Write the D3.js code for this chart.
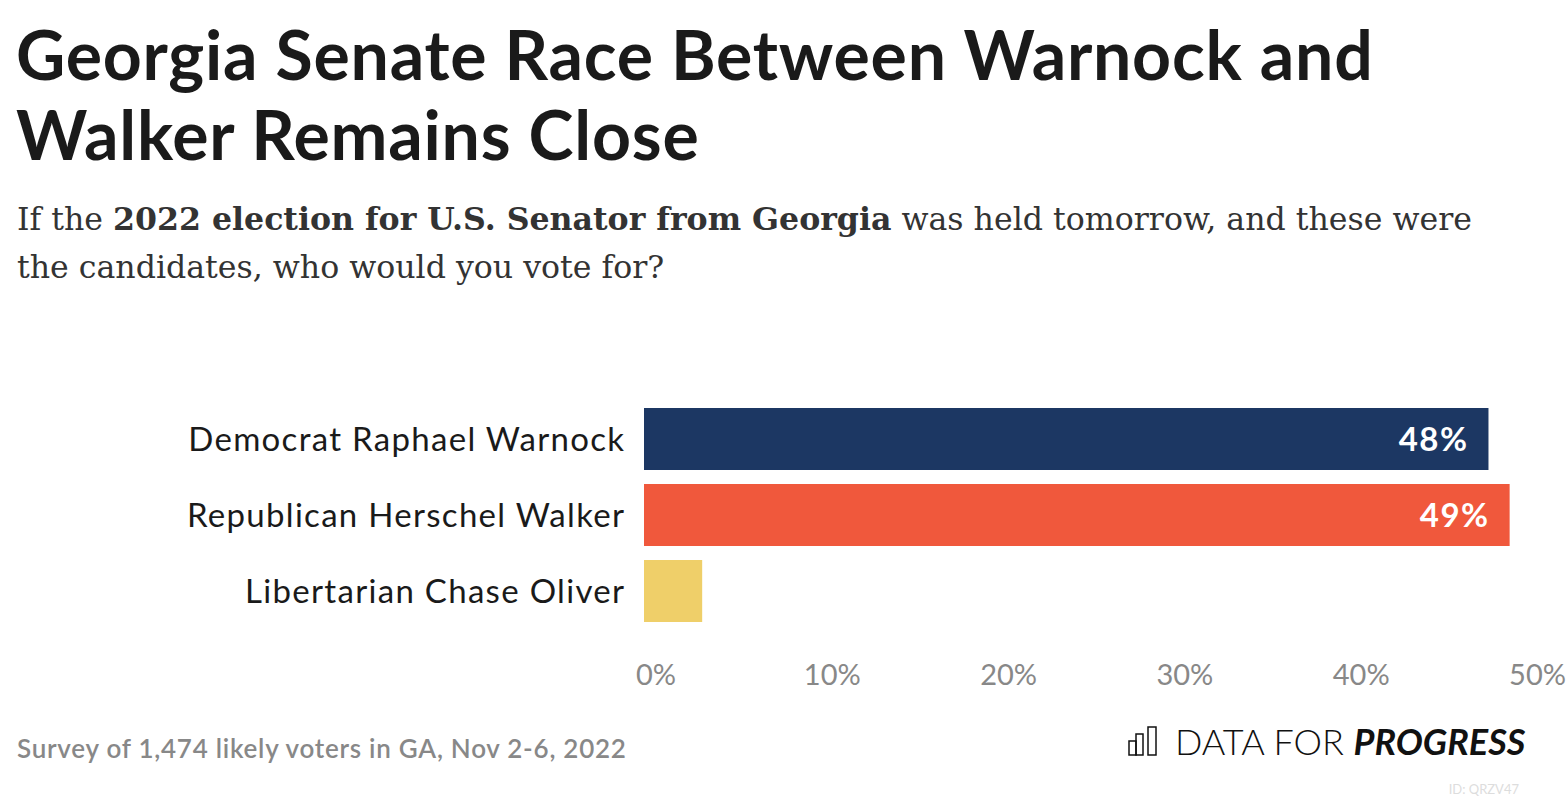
<!DOCTYPE html>
<html>
<head>
<meta charset="utf-8">
<script src="https://cdn.jsdelivr.net/npm/d3@7"></script>
<style>
  html, body { margin: 0; padding: 0; background: #fff; }
  svg { display: block; }
</style>
</head>
<body>
<div id="chart"></div>
<script>
// data
const candidates = ["Democrat Raphael Warnock", "Republican Herschel Walker", "Libertarian Chase Oliver"]
const shares = [47.9, 49.1, 3.3]
const barColors = ["#1c3763", "#f0583c", "#efcf69"]
const ticks = [0, 10, 20, 30, 40, 50]

const W = 1568, H = 800
const sans = "Lato, 'Open Sans', sans-serif"

const svg = d3.select("#chart")
	.append("svg")
	.attr("width", W)
	.attr("height", H)
	.attr("viewBox", [0, 0, W, H])

svg.append("rect").attr("width", W).attr("height", H).attr("fill", "#fff")

// title
const title = svg.append("text")
	.attr("font-family", sans)
	.attr("font-weight", 700)
	.attr("font-size", 68)
	.attr("letter-spacing", 0.75)
	.attr("fill", "#1a1a1a")
title.append("tspan").attr("x", 16).attr("y", 80).text("Georgia Senate Race Between Warnock and")
title.append("tspan").attr("x", 16).attr("y", 160).text("Walker Remains Close")

// subtitle, with a bold part
const sub = svg.append("text")
	.attr("font-family", "'DejaVu Serif', serif")
	.attr("font-size", 31.6)
	.attr("fill", "#333")
sub.append("tspan").attr("x", 17).attr("y", 230).text("If the ")
sub.append("tspan").attr("font-weight", 700).text("2022 election for U.S. Senator from Georgia")
sub.append("tspan").text(" was held tomorrow, and these were")
svg.append("text")
	.attr("font-family", "'DejaVu Serif', serif")
	.attr("font-size", 31.6)
	.attr("fill", "#333")
	.attr("x", 17).attr("y", 278)
	.text("the candidates, who would you vote for?")

// scales
const x = d3.scaleLinear().domain([0, 50]).range([644, 1525.5])
const y = d3.scaleBand().domain(candidates).range([401, 629]).paddingInner(14 / 76).paddingOuter(7 / 76)

const rows = candidates.map((c, i) => ({name: c, value: shares[i], color: barColors[i]}))

svg.append("g")
	.selectAll("rect")
	.data(rows)
	.join("rect")
	.attr("x", x(0))
	.attr("y", d => y(d.name))
	.attr("width", d => x(d.value) - x(0))
	.attr("height", y.bandwidth())
	.attr("fill", d => d.color)

// category labels
svg.append("g")
	.selectAll("text")
	.data(rows)
	.join("text")
	.attr("x", x(0) - 18.7)
	.attr("y", d => y(d.name) + y.bandwidth() / 2)
	.attr("dy", "0.35em")
	.attr("text-anchor", "end")
	.attr("font-family", sans)
	.attr("font-size", 33)
	.attr("letter-spacing", 1.3)
	.attr("fill", "#1a1a1a")
	.text(d => d.name)

// value labels inside the larger bars
svg.append("g")
	.selectAll("text")
	.data(rows.filter(d => d.value > 10))
	.join("text")
	.attr("x", d => x(d.value) - 20)
	.attr("y", d => y(d.name) + y.bandwidth() / 2)
	.attr("dy", "0.35em")
	.attr("text-anchor", "end")
	.attr("font-family", sans)
	.attr("font-weight", 700)
	.attr("font-size", 33)
	.attr("letter-spacing", 1.5)
	.attr("fill", "#fff")
	.text(d => d3.format(".0f")(d.value) + "%")

// x axis, labels only
const axis = svg.append("g")
	.attr("transform", "translate(0,656)")
	.call(d3.axisBottom(x).tickValues(ticks).tickSize(0).tickPadding(0).tickFormat(d => d + "%"))
axis.select(".domain").remove()
axis.selectAll("text")
	.attr("dx", 11.5)
	.attr("dy", "1em")
	.attr("font-family", sans)
	.attr("font-size", 29)
	.attr("fill", "#888")

// footer
svg.append("text")
	.attr("x", 17).attr("y", 758)
	.attr("font-family", sans)
	.attr("font-weight", 600)
	.attr("font-size", 26)
	.attr("letter-spacing", 0.75)
	.attr("fill", "#888")
	.text("Survey of 1,474 likely voters in GA, Nov 2-6, 2022")

// logo
const logo = svg.append("g").attr("fill", "none").attr("stroke", "#111").attr("stroke-width", 1.5)
logo.append("rect").attr("x", 1129).attr("y", 741).attr("width", 7).attr("height", 14)
logo.append("rect").attr("x", 1136).attr("y", 734).attr("width", 7).attr("height", 21)
logo.append("rect").attr("x", 1148).attr("y", 727).attr("width", 8).attr("height", 28)

const brand = svg.append("text")
	.attr("x", 1175).attr("y", 755)
	.attr("font-family", sans)
	.attr("font-size", 36)
	.attr("fill", "#111")
brand.append("tspan").attr("font-weight", 300).text("DATA FOR ")
brand.append("tspan").attr("font-weight", 700).attr("font-style", "italic").text("PROGRESS")

svg.append("text")
	.attr("x", 1519).attr("y", 794)
	.attr("text-anchor", "end")
	.attr("font-family", sans)
	.attr("font-size", 13)
	.attr("fill", "#ddd")
	.text("ID: QRZV47")
</script>
</body>
</html>
